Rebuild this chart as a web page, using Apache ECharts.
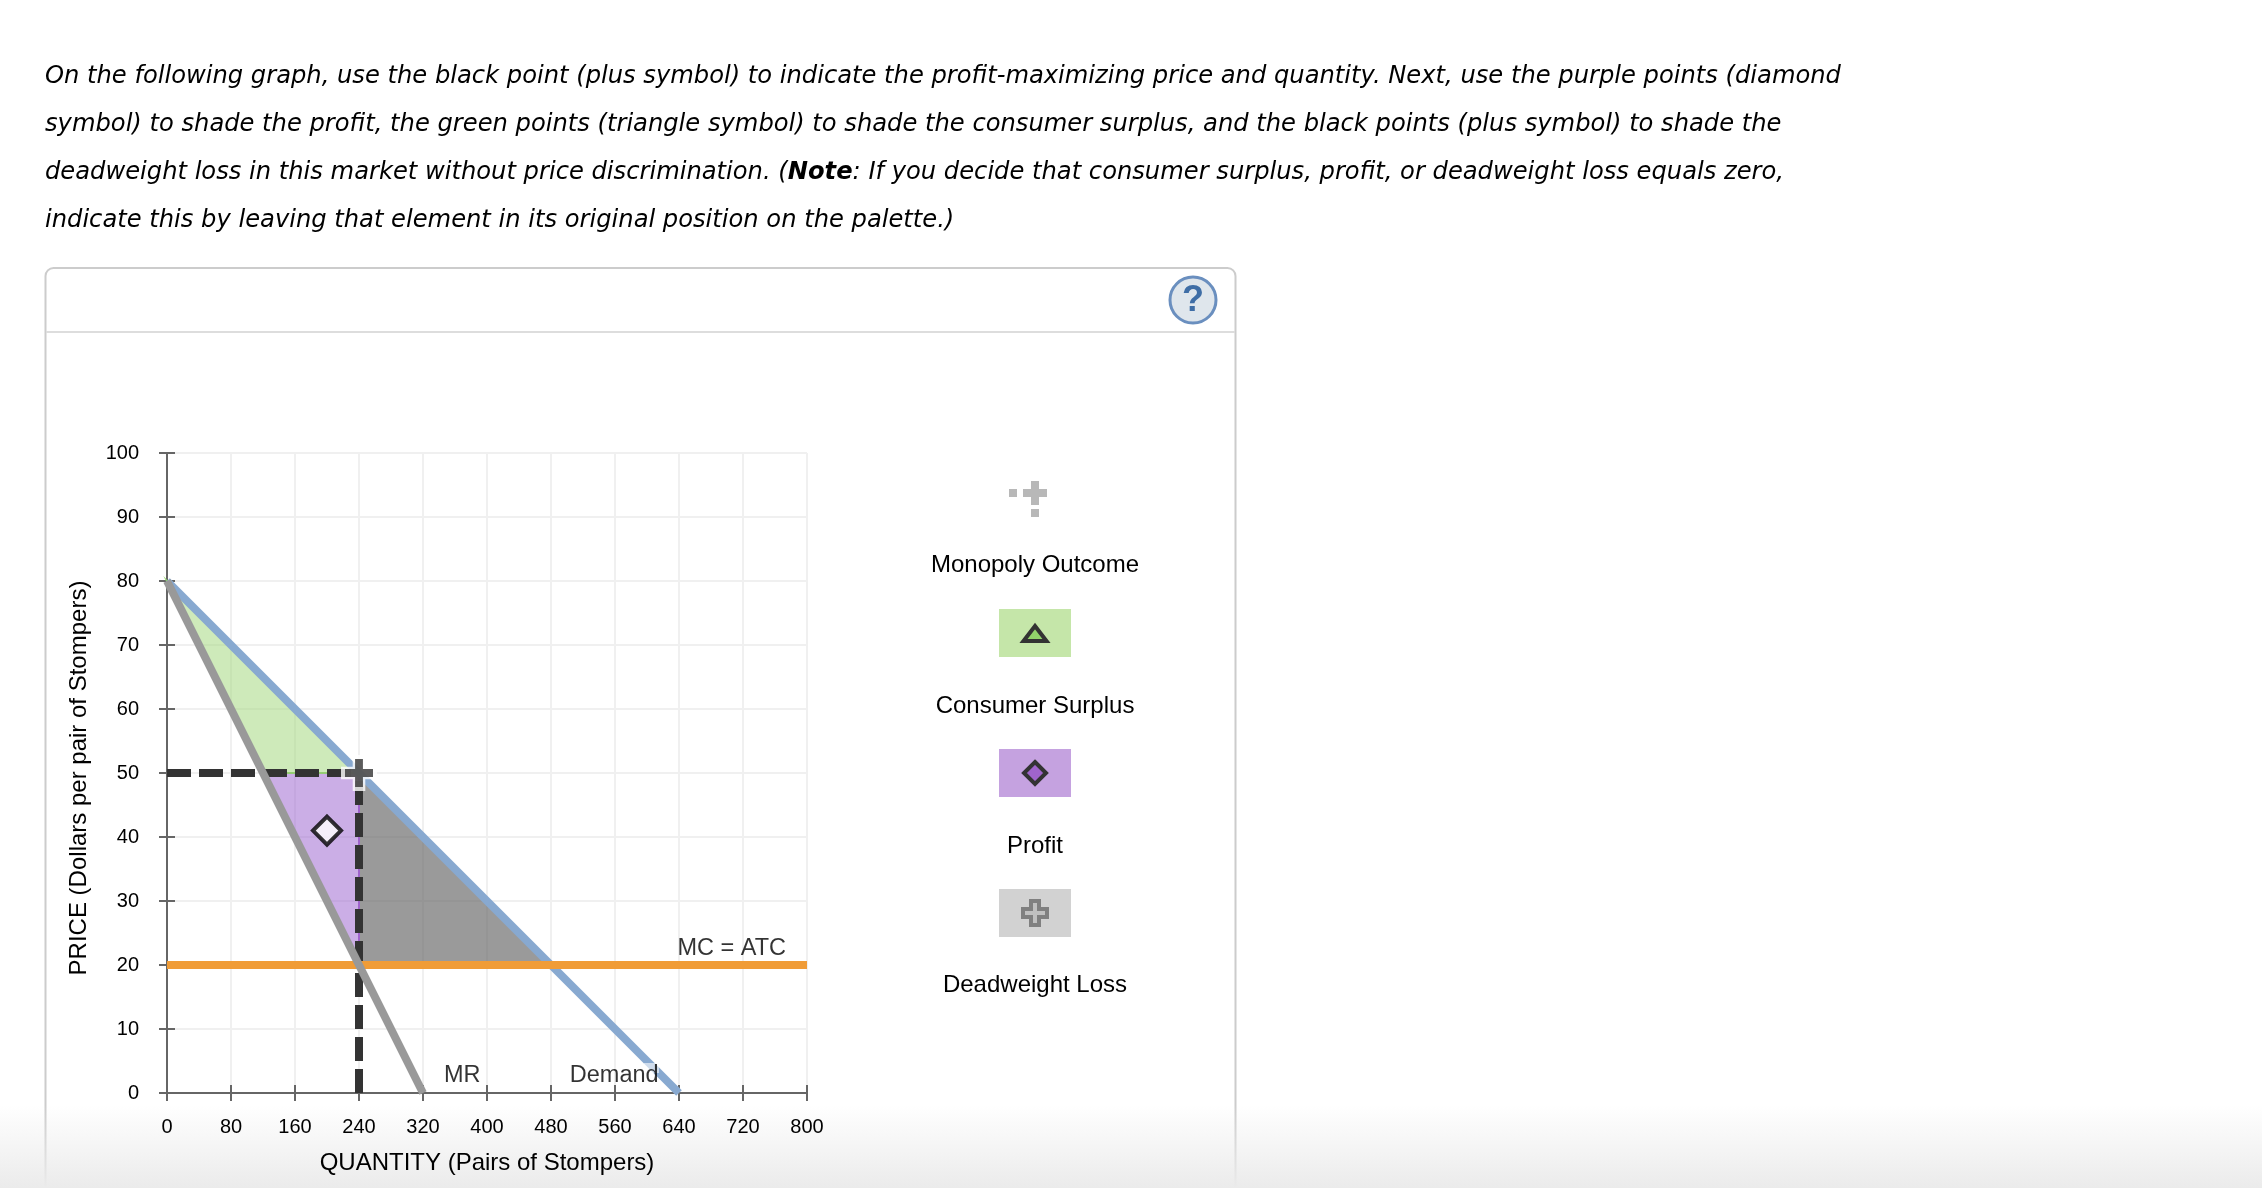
<!DOCTYPE html>
<html>
<head>
<meta charset="utf-8">
<style>
  html, body { margin: 0; padding: 0; background: #fff; }
  #main { width: 2262px; height: 1188px; }
</style>
<script src="https://cdn.jsdelivr.net/npm/echarts@6/dist/echarts.min.js"></script>
</head>
<body>
<div id="main"></div>
<script>
// axis ticks
const quantityTicks = [0, 80, 160, 240, 320, 400, 480, 560, 640, 720, 800];
const priceTicks = [0, 10, 20, 30, 40, 50, 60, 70, 80, 90, 100];

// curves [quantity, price]
const demand = [[0, 80], [640, 0]];
const mr = [[0, 80], [320, 0]];
const mc = [[0, 20], [800, 20]];
const priceDash = [[0, 50], [240, 50]];
const quantityDash = [[240, 0], [240, 50]];

// shaded areas
const consumerSurplus = [[0, 80], [240, 50], [120, 50]];
const profit = [[120, 50], [240, 50], [240, 20]];
const deadweightLoss = [[240, 50], [480, 20], [240, 20]];

// points
const monopolyOutcome = [[240, 50]];
const profitPoint = [[200, 41]];

// curve labels
const curveLabels = [
  { name: 'MC = ATC', at: [706, 22.6] },
  { name: 'MR', at: [369, 2.7] },
  { name: 'Demand', at: [559, 2.7] }
];

const questionLines = [
  [{ t: 'On the following graph, use the black point (plus symbol) to indicate the profit-maximizing price and quantity. Next, use the purple points (diamond' }],
  [{ t: 'symbol) to shade the profit, the green points (triangle symbol) to shade the consumer surplus, and the black points (plus symbol) to shade the' }],
  [{ t: 'deadweight loss in this market without price discrimination. (' }, { t: 'Note', b: true }, { t: ': If you decide that consumer surplus, profit, or deadweight loss equals zero,' }],
  [{ t: 'indicate this by leaving that element in its original position on the palette.)' }]
];

const SANS = '"Liberation Sans", Arial, sans-serif';
const QFONT = '"DejaVu Sans", Verdana, sans-serif';

function plusPoints(cx, cy, a, t) {
  return [[-t, -a], [t, -a], [t, -t], [a, -t], [a, t], [t, t], [t, a], [-t, a], [-t, t], [-a, t], [-a, -t], [-t, -t]]
    .map(p => [cx + p[0], cy + p[1]]);
}
function plusSymbol(t) {
  return 'path://M' + plusPoints(0, 0, 10, t).map(p => p.join(',')).join('L') + 'Z';
}

function polygonSeries(points, fill, stroke, z) {
  return {
    type: 'custom',
    coordinateSystem: 'cartesian2d',
    silent: true,
    z: z,
    data: [0],
    encode: { x: [], y: [] },
    renderItem: function (params, api) {
      return {
        type: 'polygon',
        shape: { points: points.map(p => api.coord(p)) },
        style: { fill: fill, stroke: stroke, lineWidth: 2 }
      };
    }
  };
}

function lineSeries(data, color, z, dash) {
  return {
    type: 'line',
    data: data,
    symbol: 'none',
    silent: true,
    z: z,
    lineStyle: { color: color, width: 8, type: dash ? [24, 8] : 'solid', cap: 'butt' }
  };
}

const myChart = echarts.init(document.getElementById('main'), null, { renderer: 'canvas' });

// question text, segments are laid out one after the other
const textEls = [];
const measure = document.createElement('canvas').getContext('2d');
questionLines.forEach((segs, i) => {
  let x = 45;
  segs.forEach(s => {
    const font = (s.b ? 'italic bold ' : 'italic ') + '24.2px ' + QFONT;
    textEls.push({
      type: 'text', x: x, y: 77 + i * 48, z: 20,
      style: { text: s.t, font: font, fill: '#000', verticalAlign: 'middle' }
    });
    measure.font = font;
    x += measure.measureText(s.t).width;
  });
});

function paletteLabel(text, y) {
  return {
    type: 'text', x: 1035, y: y, z: 20,
    style: { text: text, font: '24px ' + SANS, fill: '#000', align: 'center', verticalAlign: 'middle' }
  };
}
function paletteBox(y, fill) {
  return { type: 'rect', z: 20, shape: { x: 999, y: y, width: 72, height: 48 }, style: { fill: fill } };
}

const axisStyle = { onZero: false, lineStyle: { color: '#666', width: 2 } };
const tickStyle = { color: '#666', width: 2 };
const gridLine = { show: true, lineStyle: { color: '#f0f0f0', width: 2 } };

const option = {
  animation: false,
  backgroundColor: '#fff',
  grid: { left: 167, top: 453, width: 640, height: 640 },
  xAxis: [{
    type: 'value', min: 0, max: 800, interval: 80,
    name: 'QUANTITY (Pairs of Stompers)',
    nameLocation: 'middle', nameGap: 58,
    nameTextStyle: { color: '#000', fontFamily: SANS, fontSize: 24 },
    axisLine: axisStyle,
    axisTick: { length: 8, lineStyle: tickStyle },
    axisLabel: { color: '#000', fontFamily: SANS, fontSize: 20, margin: 24, formatter: v => quantityTicks.includes(v) ? String(v) : '' },
    splitLine: gridLine
  }, {
    // second axis only for the upper half of the ticks
    type: 'value', min: 0, max: 800, interval: 80, position: 'bottom',
    axisLine: { show: false }, axisLabel: { show: false }, splitLine: { show: false },
    axisTick: { show: true, inside: true, length: 8, lineStyle: tickStyle }
  }],
  yAxis: [{
    type: 'value', min: 0, max: 100, interval: 10,
    name: 'PRICE (Dollars per pair of Stompers)',
    nameLocation: 'middle', nameGap: 76, nameRotate: 90,
    nameTextStyle: { color: '#000', fontFamily: SANS, fontSize: 24, padding: [0, 10, 0, 0] },
    axisLine: axisStyle,
    axisTick: { length: 8, lineStyle: tickStyle },
    axisLabel: { color: '#000', fontFamily: SANS, fontSize: 20, margin: 28, formatter: v => priceTicks.includes(v) ? String(v) : '' },
    splitLine: gridLine
  }, {
    type: 'value', min: 0, max: 100, interval: 10, position: 'left',
    axisLine: { show: false }, axisLabel: { show: false }, splitLine: { show: false },
    axisTick: { show: true, inside: true, length: 8, lineStyle: tickStyle }
  }],
  series: [
    polygonSeries(deadweightLoss, 'rgba(100,100,100,0.65)', 'rgba(100,100,100,0.65)', 3),
    polygonSeries(profit, 'rgba(156,100,208,0.52)', '#a064cc', 3),
    polygonSeries(consumerSurplus, 'rgba(165,216,130,0.55)', 'rgba(146,212,107,0.9)', 3),
    lineSeries(demand, '#88a9d0', 5),
    lineSeries(priceDash, '#333', 6, true),
    lineSeries(quantityDash, '#333', 6, true),
    lineSeries(mc, '#f09c37', 7),
    lineSeries(mr, '#999', 8),
    {
      type: 'scatter', data: monopolyOutcome, z: 10, silent: true,
      symbol: plusSymbol(3.5), symbolSize: 36,
      itemStyle: { color: '#fff' }
    },
    {
      type: 'scatter', data: monopolyOutcome, z: 11, silent: true,
      symbol: plusSymbol(2.8), symbolSize: 28,
      itemStyle: { color: '#333' }
    },
    {
      type: 'scatter', data: profitPoint, z: 10, silent: true,
      symbol: 'diamond', symbolSize: 28,
      itemStyle: { color: '#fff', borderColor: '#000', borderWidth: 4 }
    },
    {
      type: 'scatter', z: 12, silent: true, symbolSize: 1,
      itemStyle: { color: 'rgba(0,0,0,0)' },
      data: curveLabels.map(l => ({ value: l.at, name: l.name })),
      label: {
        show: true, position: 'inside', formatter: '{b}',
        color: '#000', fontFamily: SANS, fontSize: 23.5
      }
    }
  ],
  graphic: [
    // panel
    { type: 'rect', z: -2, shape: { x: 45.5, y: 268, width: 1190, height: 960, r: 8 }, style: { fill: '#fff', stroke: '#ccc', lineWidth: 2 } },
    { type: 'line', z: -2, shape: { x1: 46, y1: 332, x2: 1235, y2: 332 }, style: { stroke: '#ddd', lineWidth: 2 } },
    // fade at the bottom of the page, behind the axis text
    {
      type: 'rect', z: -1, silent: true,
      shape: { x: 0, y: 1105, width: 2262, height: 83 },
      style: {
        fill: new echarts.graphic.LinearGradient(0, 0, 0, 1, [
          { offset: 0, color: 'rgba(235,235,235,0)' },
          { offset: 1, color: 'rgba(235,235,235,1)' }
        ])
      }
    },
    // help button
    { type: 'circle', z: 20, shape: { cx: 1193, cy: 300, r: 23 }, style: { fill: '#dfe6ec', stroke: '#6a8fbf', lineWidth: 3 } },
    { type: 'text', x: 1193, y: 301, z: 21, style: { text: '?', font: 'bold 36px ' + SANS, fill: '#3f6ea6', align: 'center', verticalAlign: 'middle' } },
    // palette
    { type: 'rect', z: 20, shape: { x: 1009, y: 489, width: 8, height: 8 }, style: { fill: '#b8b8b8' } },
    { type: 'polygon', z: 20, shape: { points: plusPoints(1035, 493, 12, 4) }, style: { fill: '#b8b8b8' } },
    { type: 'rect', z: 20, shape: { x: 1031, y: 509, width: 8, height: 8 }, style: { fill: '#b8b8b8' } },
    paletteLabel('Monopoly Outcome', 565),
    paletteBox(609, '#c5e6a9'),
    { type: 'polygon', z: 21, shape: { points: [[1035, 626], [1046.5, 641], [1023.5, 641]] }, style: { fill: '#92d46b', stroke: '#333', lineWidth: 4 } },
    paletteLabel('Consumer Surplus', 706),
    paletteBox(749, '#c5a2e0'),
    { type: 'polygon', z: 21, shape: { points: [[1035, 762], [1046, 773], [1035, 784], [1024, 773]] }, style: { fill: '#a064cc', stroke: '#333', lineWidth: 4 } },
    paletteLabel('Profit', 846),
    paletteBox(889, '#d2d2d2'),
    { type: 'polygon', z: 21, shape: { points: plusPoints(1035, 913, 12, 4) }, style: { fill: '#c0c0c0', stroke: '#808080', lineWidth: 4 } },
    paletteLabel('Deadweight Loss', 985),
    ...textEls,
    // the label box fades a bit of the demand line
    { type: 'rect', z: 9, silent: true, shape: { x: 644, y: 1063, width: 15, height: 10 }, style: { fill: 'rgba(255,255,255,0.6)' } }
  ]
};

myChart.setOption(option);
</script>
</body>
</html>
